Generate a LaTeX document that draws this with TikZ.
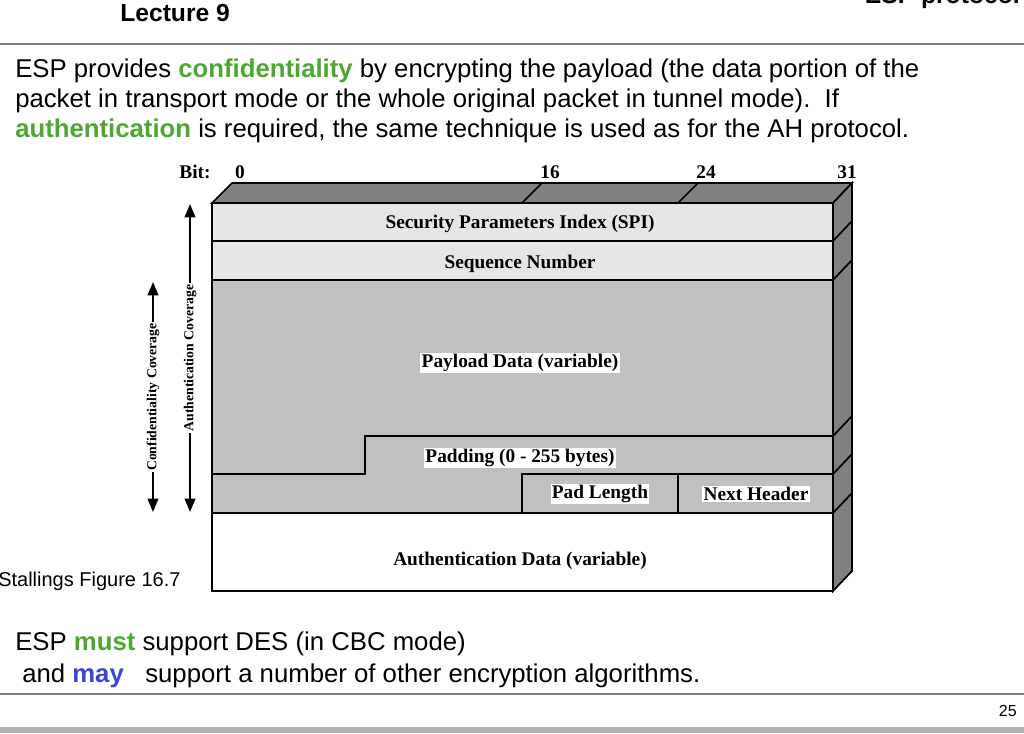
\documentclass[tikz,border=0pt]{standalone}
\usepackage{fontspec}
\setmainfont{Liberation Sans}
\newfontfamily\tms{Liberation Serif}
\usetikzlibrary{arrows.meta}
\definecolor{grn}{HTML}{4CA832}
\definecolor{blu}{HTML}{3A45D6}
\definecolor{dk}{HTML}{808080}
\definecolor{lt}{HTML}{E6E6E6}
\definecolor{md}{HTML}{C0C0C0}
\begin{document}
\begin{tikzpicture}[x=0.75pt,y=-0.75pt,
 body/.style={font=\fontsize{19.3}{22}\selectfont,anchor=base west,inner sep=0},
 fld/.style={font=\tms\bfseries\fontsize{14.5}{16}\selectfont,inner sep=1pt},
 wfld/.style={fld,fill=white},
 edge/.style={line width=1.3pt,line join=miter},
 cov/.style={line width=1.3pt,-{Triangle[length=10pt,width=8pt]}},
 covl/.style={font=\tms\bfseries\fontsize{10.3}{11}\selectfont,rotate=90,fill=white,inner sep=1pt}]
\useasboundingbox (0,0) rectangle (1024,733);
\clip (0,0) rectangle (1024,733);
% header
\node[font=\bfseries\fontsize{18.5}{20}\selectfont,anchor=base west,inner sep=0] (lec) at (120,21) {Lecture 9};
\node[font=\bfseries\fontsize{18.5}{20}\selectfont,anchor=base east,inner sep=0] (top) at (1020,3) {ESP protocol};
\draw[line width=1.5pt,gray] (0,44) -- (1024,44);
% body text
\node[body] (t1) at (15,77) {ESP provides \textcolor{grn}{\bfseries confidentiality} by encrypting the payload (the data portion of the};
\node[body] (t2) at (15,107) {packet in transport mode or the whole original packet in tunnel mode).\ \ If};
\node[body] (t3) at (15,137) {\textcolor{grn}{\bfseries authentication} is required, the same technique is used as for the AH protocol.};
% bit labels
\foreach \x/\t in {195/Bit:,240/0,550/16,706/24,847/31}
  \node[font=\tms\bfseries\fontsize{14.5}{16}\selectfont,inner sep=0] (b\t) at (\x,172) {\t};
% top face
\fill[dk,draw=black,edge] (212,203) -- (232,183) -- (852,183) -- (833,203) -- cycle;
\draw[edge] (522,203) -- (542,183) (678,203) -- (698,183);
% side face
\fill[dk,draw=black,edge] (833,203) -- (852,183) -- (852,571) -- (833,591) -- cycle;
\foreach \y in {241,280,436,474,513} \draw[edge] (833,\y) -- (852,\y-20);
% rows
\filldraw[fill=lt,edge] (212,203) rectangle (833,241);
\filldraw[fill=lt,edge] (212,241) rectangle (833,280);
\filldraw[fill=md,edge] (212,280) rectangle (833,513);
\draw[edge] (212,474) -- (365,474) -- (365,436) -- (833,436);
\draw[edge] (522,513) -- (522,474) -- (833,474);
\draw[edge] (678,474) -- (678,513);
\filldraw[fill=white,edge] (212,513) rectangle (833,591);
\node[fld] (spi) at (520,224) {Security Parameters Index (SPI)};
\node[fld] (seq) at (520,264) {Sequence Number};
\node[wfld] (pay) at (520,363) {Payload Data (variable)};
\node[wfld] (pad) at (520,458) {Padding (0 - 255 bytes)};
\node[wfld] (pl) at (600,494) {Pad Length};
\node[wfld] (nh) at (756,494) {Next Header};
\node[fld] (auth) at (520,561) {Authentication Data (variable)};
% coverage arrows
\coordinate (ct) at (153,282); \coordinate (cb) at (153,512);
\coordinate (at) at (190,204); \coordinate (ab) at (190,512);
\draw[cov] (153,397) -- (ct);
\draw[cov] (153,397) -- (cb);
\node[covl] (cl) at (153,397) {Confidentiality Coverage};
\draw[cov] (190,358) -- (at);
\draw[cov] (190,358) -- (ab);
\node[covl] (al) at (190,358) {Authentication Coverage};
\node[font=\fontsize{15}{17}\selectfont,anchor=base west,inner sep=0] (st) at (-2,586) {Stallings Figure 16.7};
% bottom text
\node[body] (b1) at (15,650) {ESP \textcolor{grn}{\bfseries must} support DES (in CBC mode)};
\node[body] (b2) at (22,682) {and \textcolor{blu}{\bfseries may}\ \ \ support a number of other encryption algorithms.};
\draw[line width=0.8pt,gray] (0,694) -- (1024,694);
\fill[gray!60] (0,727) rectangle (1024,733);
\node[font=\fontsize{12}{14}\selectfont,anchor=base east,inner sep=0] (pg) at (1017,716) {25};
\end{tikzpicture}
\end{document}
